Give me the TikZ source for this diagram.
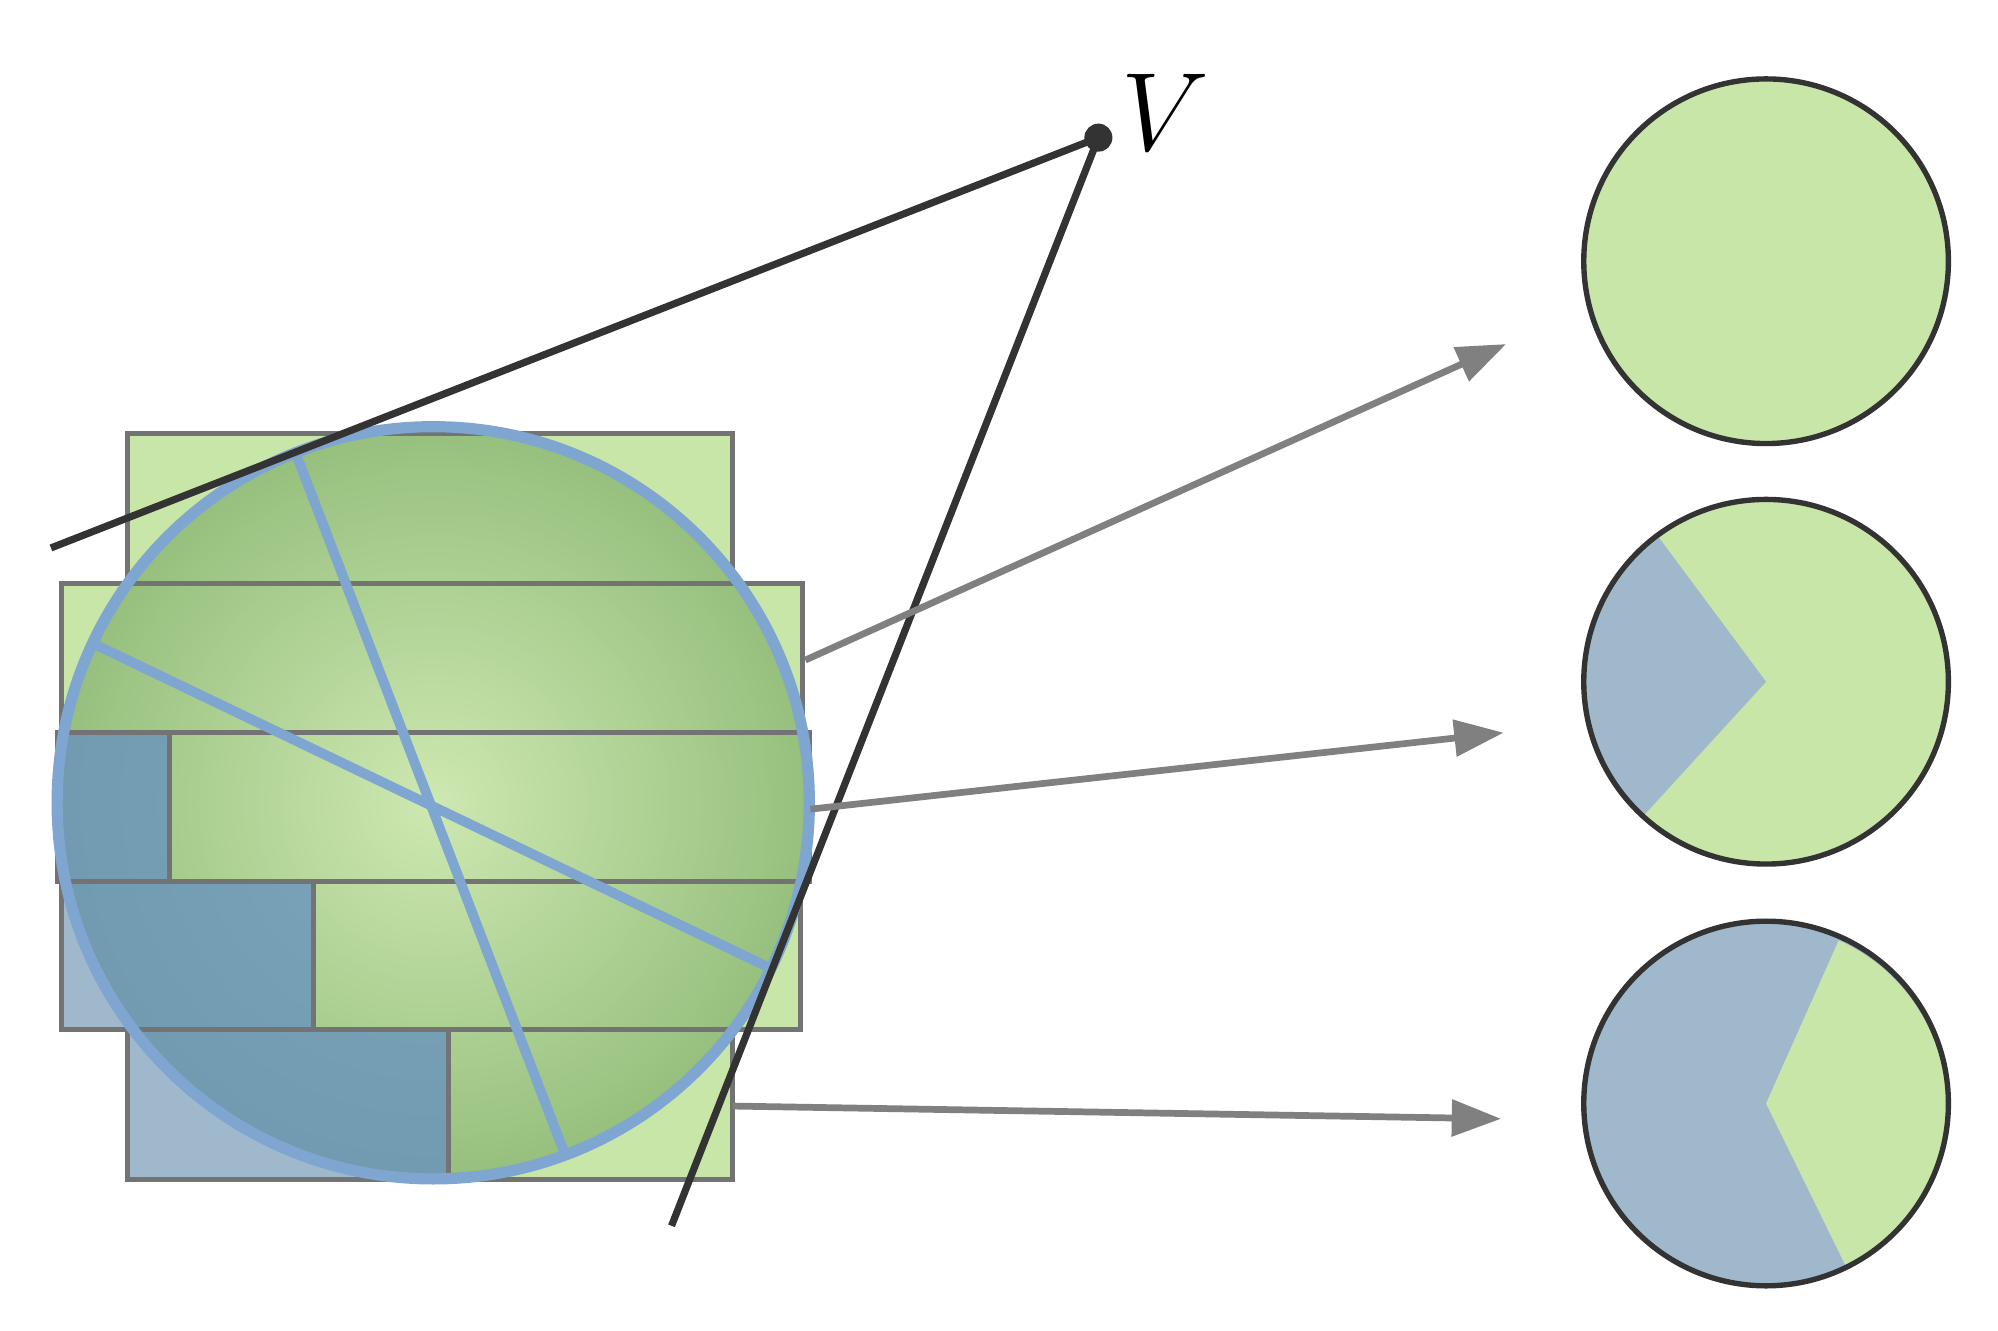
\documentclass[tikz,border=0pt]{standalone}
\usetikzlibrary{arrows.meta}
\definecolor{lg}{HTML}{C8E6A8}
\definecolor{lb}{HTML}{A0B8CC}
\definecolor{db}{HTML}{6A96BC}
\definecolor{cb}{HTML}{7FA6D0}
\definecolor{dg}{HTML}{333333}
\tikzset{rec/.style={draw=black!55,line width=1.1pt},
 pie/.style={draw=dg,line width=1.2pt},
 arr/.style={draw=black!50,line width=1.5pt,-{Triangle[length=11pt,width=8pt]}},
 blk/.style={draw=dg,line width=1.6pt}}
\begin{document}
\begin{tikzpicture}[x=0.01cm,y=-0.01cm]
\useasboundingbox (0,0) rectangle (1568,1044);
% rects
\fill[lg] (100,340) rectangle (575,458);
\fill[lg] (48,458) rectangle (630,575);
\fill[lg] (45,575) rectangle (635,692);
\fill[lb] (45,575) rectangle (133,692);
\fill[lg] (48,692) rectangle (628,808);
\fill[lb] (48,692) rectangle (246,808);
\fill[lg] (100,808) rectangle (575,926);
\fill[lb] (100,808) rectangle (352,926);
% circle shading
\shade[inner color=lg!80!white, outer color=green!30!black!45!lg, fill opacity=0.55, shading=radial] (340,630) circle (295);
\begin{scope}
\clip (340,630) circle (295);
\fill[db,fill opacity=0.75] (45,575) rectangle (133,692) (48,692) rectangle (246,808) (100,808) rectangle (352,926);
\end{scope}
% rect outlines
\draw[rec] (100,340) rectangle (575,458);
\draw[rec] (48,458) rectangle (630,575);
\draw[rec] (45,575) rectangle (635,692) (133,575)--(133,692);
\draw[rec] (48,692) rectangle (628,808) (246,692)--(246,808);
\draw[rec] (100,808) rectangle (575,926) (352,808)--(352,926);
% blue lines
\coordinate (a1) at (233,358); \coordinate (a2) at (445,910);
\coordinate (b1) at (73,505); \coordinate (b2) at (605,760);
\draw[cb,line width=2.2pt] (a1)--(a2) (b1)--(b2);
\node[circle,draw=cb,line width=2.5pt,minimum size=5.9cm,inner sep=0] (C) at (340,630) {};
% V lines
\node[circle,fill=dg,inner sep=0,minimum size=0.22cm] (V) at (862,108) {};
\node[font=\fontsize{56}{60}\selectfont,anchor=west] (VL) at (868,88) {$V$};
\coordinate (L1) at (40,430); \coordinate (L2) at (527,962);
\draw[blk] (V.center)--(L1) (V.center)--(L2);
% pies
\node[pie,circle,fill=lg,minimum size=2.86cm,inner sep=0] (P1) at (1386,205) {};
\fill[lg] (1386,535) circle (143);
\fill[lb] (1386,535) -- (1302,422) arc[start angle=233.4,end angle=133.3,radius=143] -- cycle;
\node[pie,circle,minimum size=2.86cm,inner sep=0] (P2) at (1386,535) {};
\fill[lb] (1386,866) circle (143);
\fill[lg] (1386,866) -- (1443,738) arc[start angle=-66,end angle=63,radius=143] -- cycle;
\node[pie,circle,minimum size=2.86cm,inner sep=0] (P3) at (1386,866) {};
% arrows
\coordinate (s1) at (632,518); \coordinate (e1) at (1182,270);
\coordinate (s2) at (636,635); \coordinate (e2) at (1180,575);
\coordinate (s3) at (575,868); \coordinate (e3) at (1178,878);
\draw[arr] (s1)--(e1); \draw[arr] (s2)--(e2); \draw[arr] (s3)--(e3);
\end{tikzpicture}
\end{document}
